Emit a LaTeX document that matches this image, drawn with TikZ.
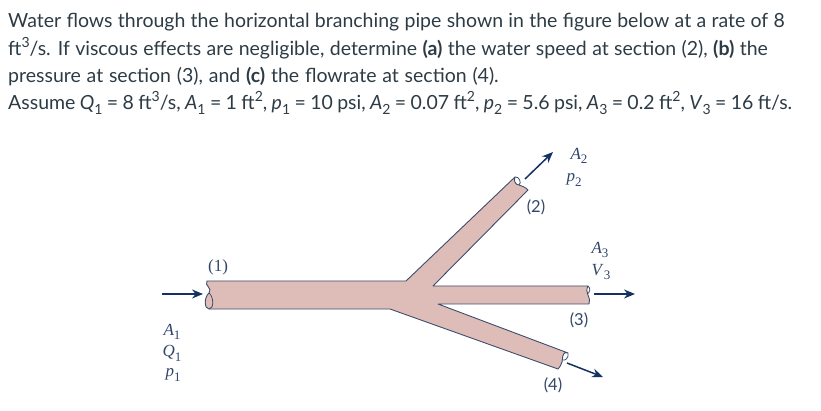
\documentclass[tikz,border=0pt]{standalone}
\usepackage{fontspec}
\usepackage{xcolor}
\setmainfont{Lato}
\newfontfamily\figfont{Liberation Serif}
\usetikzlibrary{arrows.meta}
\definecolor{TextGrey}{RGB}{45,59,69}
\definecolor{PipeFill}{RGB}{222,189,185}
\definecolor{PipeEdge}{RGB}{62,76,108}
\definecolor{FlowBlue}{RGB}{20,50,95}
\definecolor{LabelBlue}{RGB}{50,70,105}
\newcommand{\lsub}[1]{\raisebox{-0.22em}{\fontsize{14}{14}\selectfont #1}}
\newcommand{\lsup}[1]{\raisebox{0.45em}{\fontsize{14}{14}\selectfont #1}}
\newcommand{\fsym}[2]{\textit{#1}\raisebox{-0.28em}{\fontsize{13}{14}\selectfont #2}}

\begin{document}
\begin{tikzpicture}[
                x=1pt, y=-1pt,
                % Styles
                textline/.style={anchor=base west, text=TextGrey, font=\fontsize{19.5}{23}\selectfont, inner sep=0pt, execute at begin node={\spaceskip=#1\relax}},
                pipe/.style={draw=PipeEdge, fill=PipeFill, line width=0.9pt, line join=round},
                pipecap/.style={draw=PipeEdge, line width=0.8pt},
                flow/.style={-{Stealth[length=11pt,width=9pt]}, draw=FlowBlue, line width=1.5pt},
                symlabel/.style={text=LabelBlue, font=\figfont\fontsize{17}{19}\selectfont, inner sep=0pt},
                seclabel/.style={text=LabelBlue, font=\fontsize{16.5}{19}\selectfont, inner sep=0pt}
            ]
                \useasboundingbox (0,0) rectangle (821,411);

                % --- TEXT ---
                \node[textline=5.3pt] (line1) at (8,28) {Water flows through the horizontal branching pipe shown in the figure below at a rate of 8};
                \node[textline=5.4pt] (line2) at (8,56) {ft\lsup{3}/s. If viscous effects are negligible, determine \textbf{(a)} the water speed at section (2), \textbf{(b)} the};
                \node[textline=5.8pt] (line3) at (8,83) {pressure at section (3), and \textbf{(c)} the flowrate at section (4).};
                \node[textline=4.4pt] (line4) at (8,110) {Assume \textit{Q}\lsub{1} = 8 ft\lsup{3}/s, \textit{A}\lsub{1} = 1 ft\lsup{2}, \textit{p}\lsub{1} = 10 psi, \textit{A}\lsub{2} = 0.07 ft\lsup{2}, \textit{p}\lsub{2} = 5.6 psi, \textit{A}\lsub{3} = 0.2 ft\lsup{2}, \textit{V}\lsub{3} = 16 ft/s.};

                % --- PIPE ---
                \path[pipe] (207,281) -- (406,281) -- (515,177)
                    .. controls (513,181) and (516,185) .. (519,185)
                    .. controls (522,186) and (525,187) .. (528,190)
                    -- (433,286) -- (588,286)
                    .. controls (584,293) and (592,298) .. (589,304)
                    -- (438,304) -- (568,353)
                    .. controls (561,351) and (563,360) .. (562,362)
                    .. controls (561,365) and (560,367) .. (558,369)
                    -- (390,309) -- (209,309)
                    .. controls (204,309) and (204,297) .. (209,293)
                    .. controls (213,288) and (204,286) .. (207,281) -- cycle;

                % Pipe ends
                \draw[pipecap] (209,293) .. controls (214,297) and (214,309) .. (209,309);
                \draw[pipecap] (515,177) .. controls (519,176) and (522,183) .. (519,185);
                \draw[pipecap] (588,286) .. controls (591,288) and (590,293) .. (587,294);
                \draw[pipecap] (568,353) .. controls (569,358) and (565,361) .. (562.5,360);

                % --- ARROWS ---
                \coordinate (in1) at (162,294);
                \coordinate (in2) at (203,294);
                \coordinate (up1) at (525,179);
                \coordinate (up2) at (553,152);
                \coordinate (mid1) at (594,294);
                \coordinate (mid2) at (635,294);
                \coordinate (low1) at (567,363);
                \coordinate (low2) at (603,377);
                \draw[flow] (in1) -- (in2);
                \draw[flow] (up1) -- (up2);
                \draw[flow] (mid1) -- (mid2);
                \draw[flow] (low1) -- (low2);

                % --- LABELS ---
                \node[symlabel] (sec1) at (218,267) {(1)};
                \node[seclabel] (sec2) at (536,207) {(2)};
                \node[seclabel] (sec3) at (579,320) {(3)};
                \node[seclabel] (sec4) at (553,385) {(4)};

                \node[symlabel] (a1) at (172,332) {\fsym{A}{1}};
                \node[symlabel] (q1) at (172,353) {\fsym{Q}{1}};
                \node[symlabel] (p1) at (173,375) {\fsym{p}{1}};
                \node[symlabel] (a2) at (579,156) {\fsym{A}{2}};
                \node[symlabel] (p2) at (574,180) {\fsym{p}{2}};
                \node[symlabel] (a3) at (600,250) {\fsym{A}{3}};
                \node[symlabel] (v3) at (601,272) {\fsym{V}{3}};
            \end{tikzpicture}
\end{document}
